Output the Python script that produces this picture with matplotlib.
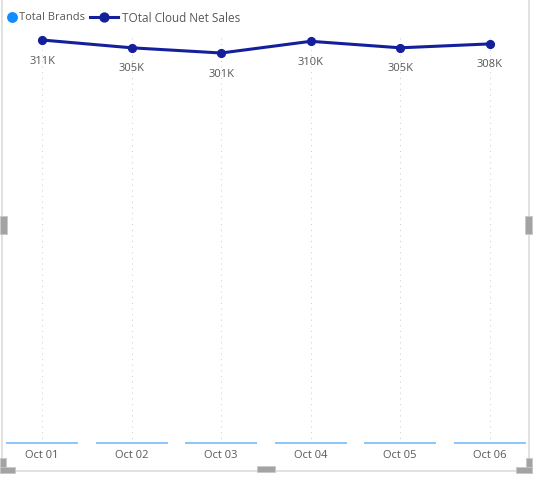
import matplotlib
matplotlib.use("Agg")
import matplotlib.pyplot as plt
from matplotlib.lines import Line2D
from matplotlib.patches import Rectangle

plt.rcParams['font.family'] = ['Open Sans', 'DejaVu Sans']

dates = ["Oct 01", "Oct 02", "Oct 03", "Oct 04", "Oct 05", "Oct 06"]
cloud_sales = [311, 305, 301, 310, 305, 308]
total_brands = [1.5, 1.5, 1.5, 1.5, 1.5, 1.5]
labels = ["311K", "305K", "301K", "310K", "305K", "308K"]

W, H = 538, 487
TEXT = "#5A5856"
LINE = "#14209B"
BAR = "#8CC6FA"
DOT = "#118DFF"

fig = plt.figure(figsize=(W/100, H/100), dpi=100, facecolor="white")

# pixel-space overlay for the visual's selection frame
bg = fig.add_axes([0, 0, 1, 1], zorder=0)
bg.set_xlim(0, W); bg.set_ylim(H, 0); bg.axis("off")
for x0, y0, w, h in [(1, 0, 2, 472), (528, 0, 2, 472), (1, 470, 529, 2)]:
    bg.add_patch(Rectangle((x0, y0), w, h, color="#E1E1E1", lw=0))
for x0, y0, w, h in [(0, 216, 7, 18), (525, 216, 7, 18), (257, 466, 18, 6),
                     (0, 458, 6, 15), (0, 467, 15, 6),
                     (526, 458, 6, 15), (516, 467, 16, 6)]:
    bg.add_patch(Rectangle((x0, y0), w, h, facecolor="#A3A3A3", edgecolor="#C8C8C8", lw=0.6))

x0px, x1px, top, base = 6, 526, 35, 444
first, step = 42.2, 89.5
ax = fig.add_axes([x0px/W, 1-base/H, (x1px-x0px)/W, (base-top)/H], zorder=1)
ax.patch.set_alpha(0)
xs = list(range(len(dates)))
ax.set_xlim((x0px-first)/step, (x1px-first)/step)
ax.set_ylim(0, (base-top)/1.299)

ax.bar(xs, total_brands, width=0.805, color=BAR, zorder=2)
ax.plot(xs, cloud_sales, color=LINE, lw=2.2, marker="o", ms=5.6, zorder=3, clip_on=False)
for x, y, s in zip(xs, cloud_sales, labels):
    ax.annotate(s, (x, y), xytext=(0, -21*0.72), textcoords="offset points",
                ha="center", va="center", fontsize=8, color=TEXT)

ax.set_xticks(xs, dates)
ax.set_yticks([])
ax.tick_params(axis="x", length=0, pad=4, labelsize=8, labelcolor=TEXT)
ax.grid(axis="x", color="#D0D0D0", lw=0.75, ls=(0, (1, 4.4)), zorder=1)
for s in ax.spines.values():
    s.set_visible(False)

brand_handle = Line2D([], [], ls="none", marker="o", ms=6.8, color=DOT, label="Total Brands")
cloud_handle = Line2D([], [], color=LINE, lw=2.2, marker="o", ms=6.4, label="TOtal Cloud Net Sales")
common = dict(loc="center left", frameon=False, labelcolor=TEXT,
              borderpad=0, borderaxespad=0)
fig.legend(handles=[brand_handle], bbox_to_anchor=(7/W, 1-18/H), fontsize=8,
           handlelength=0.95, handletextpad=0.1, **common)
fig.legend(handles=[cloud_handle], bbox_to_anchor=(90/W, 1-18/H), fontsize=8.45,
           handlelength=2.4, handletextpad=0.3, **common)

fig.savefig("out.png", dpi=100)
